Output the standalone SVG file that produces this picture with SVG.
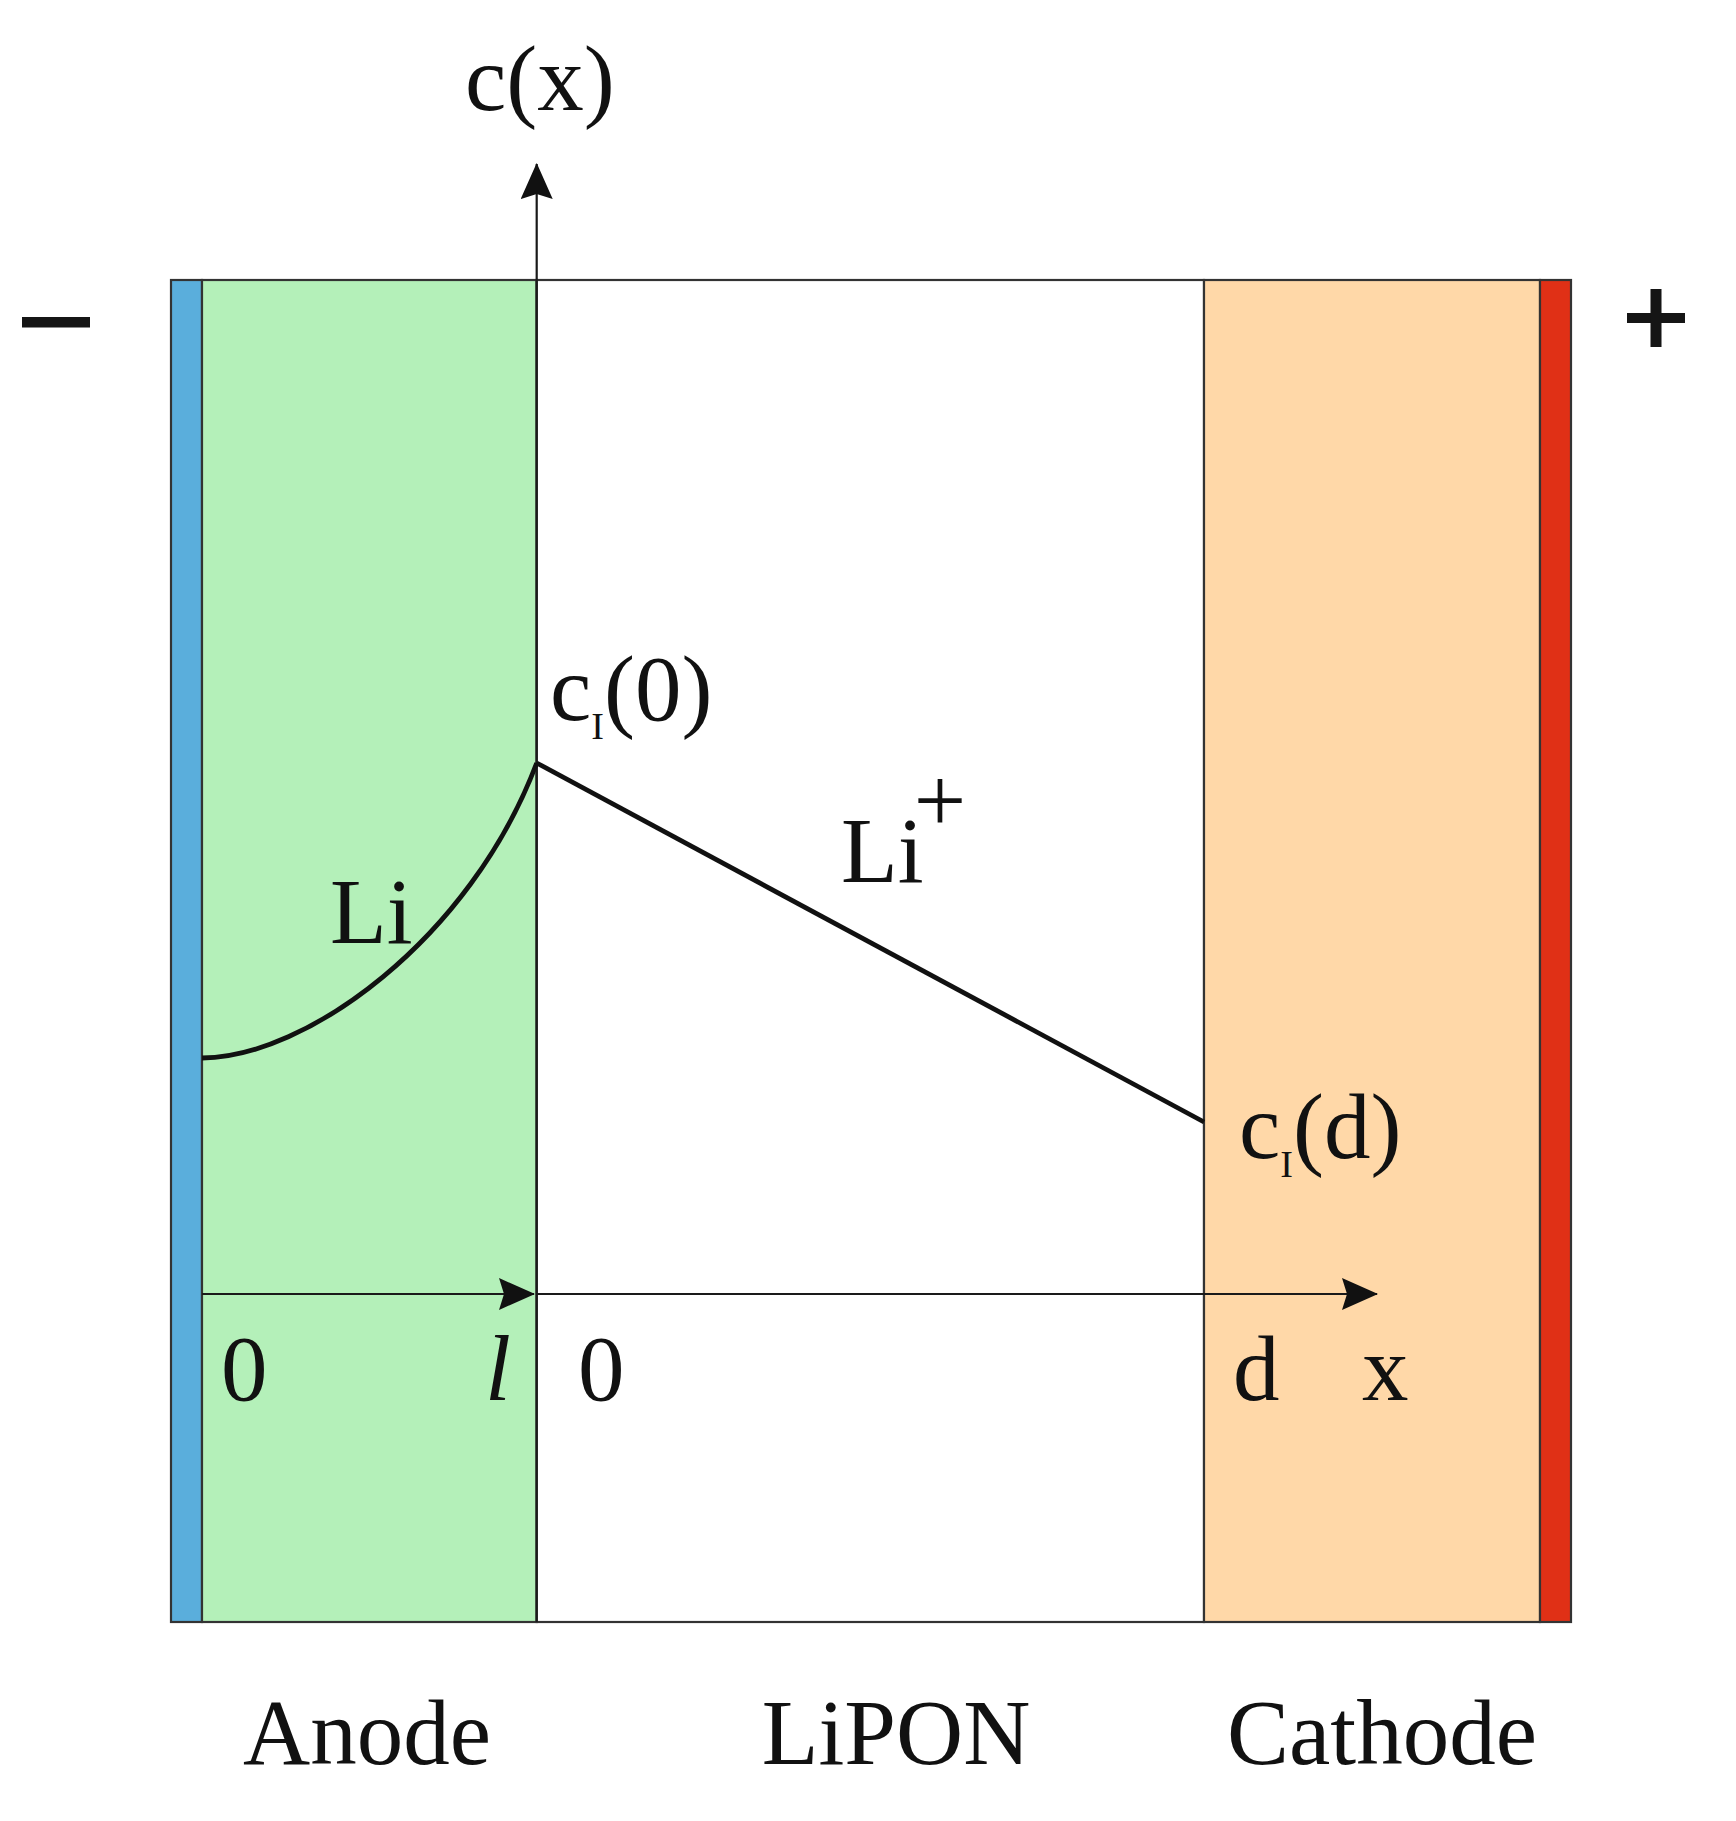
<svg xmlns="http://www.w3.org/2000/svg" width="1736" height="1821" viewBox="0 0 1736 1821">
<style>
text{font-family:"Liberation Serif","Times New Roman",serif;fill:#111;font-size:93px}
.ax{stroke:#1a1a1a;stroke-width:2.2;fill:none}
.crv{stroke:#111;stroke-width:4.8;fill:none}
.bd{stroke:#333;stroke-width:2.2}
</style>
<defs>
<marker id="ah" markerWidth="36" markerHeight="32" refX="35" refY="16" orient="auto" markerUnits="userSpaceOnUse">
<path d="M0,0 L36,16 L0,32 L5,16 Z" fill="#111"/>
</marker>
</defs>
<rect width="1736" height="1821" fill="#ffffff"/>
<g id="cell">
<rect id="anode-cc" x="171" y="280" width="31" height="1342" fill="#5aaedc" class="bd"/>
<rect id="anode" x="202" y="280" width="334.7" height="1342" fill="#b4f0b9" class="bd"/>
<rect id="lipon" x="536.7" y="280" width="667.3" height="1342" fill="#ffffff" class="bd"/>
<rect id="cathode" x="1204" y="280" width="336" height="1342" fill="#ffd8a8" class="bd"/>
<rect id="cathode-cc" x="1540" y="280" width="31" height="1342" fill="#e03016" class="bd"/>
</g>
<g id="connectors">
<line class="ax" x1="536.7" y1="1622" x2="536.7" y2="164" marker-end="url(#ah)"/>
<line class="ax" x1="202" y1="1294" x2="534" y2="1294" marker-end="url(#ah)"/>
<line class="ax" x1="536.7" y1="1294" x2="1377" y2="1294" marker-end="url(#ah)"/>
<path id="li-curve" class="crv" d="M202,1058 C305,1058 470,940 536.7,763"/>
<line id="li-plus-line" class="crv" x1="536.7" y1="763" x2="1204" y2="1122"/>
</g>
<g id="labels">
<rect id="minus" x="22" y="317" width="68" height="10.5" fill="#151515"/>
<g id="plus" fill="#151515">
<rect x="1627" y="313" width="58" height="10"/>
<rect x="1650.5" y="289" width="11" height="58"/>
</g>
<text x="465" y="110">c(x)</text>
<text x="550" y="720">c<tspan font-size="38" dy="19">I</tspan><tspan dy="-19">(0)</tspan></text>
<text x="1239" y="1158">c<tspan font-size="38" dy="19">I</tspan><tspan dy="-19">(d)</tspan></text>
<text x="330" y="943">Li</text>
<text x="841" y="882">Li</text>
<text x="940" y="832" font-size="38" text-anchor="middle">+</text>
<text x="221" y="1400">0</text>
<text x="485" y="1400" font-style="italic">l</text>
<text x="578" y="1400">0</text>
<text x="1233" y="1400">d</text>
<text x="1362" y="1400">x</text>
<text x="367" y="1764" text-anchor="middle">Anode</text>
<text x="896" y="1764" text-anchor="middle">LiPON</text>
<text x="1382" y="1764" text-anchor="middle">Cathode</text>
</g>
</svg>
